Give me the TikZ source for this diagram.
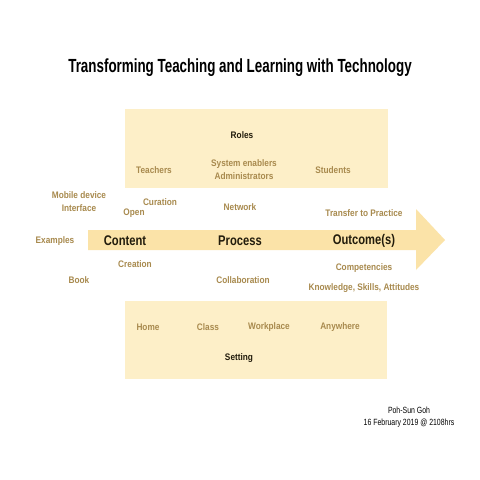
\documentclass[tikz,border=0pt]{standalone}
\usepackage{fontspec}
\setmainfont{Liberation Sans}
\newfontfamily\titlefont[FakeStretch=0.705]{Liberation Sans}
\newfontfamily\labelfont[FakeStretch=0.87]{Liberation Sans}
\newfontfamily\bigfont[FakeStretch=0.80]{Liberation Sans}
\newfontfamily\notefont[FakeStretch=0.77]{Liberation Sans}
\definecolor{boxfill}{HTML}{FDEFC8}
\definecolor{arrowfill}{HTML}{FBE3A8}
\definecolor{labeltext}{HTML}{A88A4E}
\definecolor{darktext}{HTML}{221C0C}

\begin{document}
\begin{tikzpicture}[x=1pt,y=-1pt,
	lbl/.style={font=\labelfont\bfseries\fontsize{9.5}{11}\selectfont,text=labeltext,inner sep=0pt,align=center},
	head/.style={font=\labelfont\bfseries\fontsize{9.5}{11}\selectfont,text=darktext,inner sep=0pt},
	stage/.style={font=\bigfont\bfseries\fontsize{14}{16}\selectfont,text=darktext,inner sep=0pt}]
		\useasboundingbox[fill=white] (0,0) rectangle (480,480);
		\fill[boxfill] (125,109) rectangle (388,188);
		\fill[boxfill] (125,301) rectangle (387,379);
		\fill[arrowfill] (88,230) -- (416,230) -- (416,209) -- (445,240) -- (416,270) -- (416,250) -- (88,250) -- cycle;
		\node[font=\titlefont\bfseries\fontsize{19}{22}\selectfont,inner sep=0pt] (title) at (240,68){Transforming Teaching and Learning with Technology};
		\node[head] (roles) at (242,135){Roles};
		\node[lbl] (teachers) at (154,170){Teachers};
		\node[lbl] (enablers) at (244,170){System enablers\\[2pt]Administrators};
		\node[lbl] (students) at (333,170){Students};
		\node[lbl] (mobile) at (79,202){Mobile device\\[2pt]Interface};
		\node[lbl] (curation) at (160,202){Curation};
		\node[lbl] (open) at (134,213){Open};
		\node[lbl] (network) at (240,207){Network};
		\node[lbl] (transfer) at (364,213){Transfer to Practice};
		\node[lbl] (examples) at (55,241){Examples};
		\node[stage] (content) at (125,241){Content};
		\node[stage] (process) at (240,241){Process};
		\node[stage] (outcome) at (364,241){Outcome(s)};
		\node[lbl] (creation) at (135,264){Creation};
		\node[lbl] (book) at (79,280){Book};
		\node[lbl] (collab) at (243,280){Collaboration};
		\node[lbl] (competencies) at (364,268){Competencies};
		\node[lbl] (knowledge) at (364,288){Knowledge, Skills, Attitudes};
		\node[lbl] (home) at (148,327){Home};
		\node[lbl] (class) at (208,327){Class};
		\node[lbl] (workplace) at (269,327){Workplace};
		\node[lbl] (anywhere) at (340,327){Anywhere};
		\node[head] (setting) at (239,358){Setting};
		\node[font=\notefont\fontsize{9}{11}\selectfont,align=center,inner sep=0pt] (author) at (409,417){Poh-Sun Goh\\[1pt]16 February 2019 @ 2108hrs};
	\end{tikzpicture}
\end{document}
